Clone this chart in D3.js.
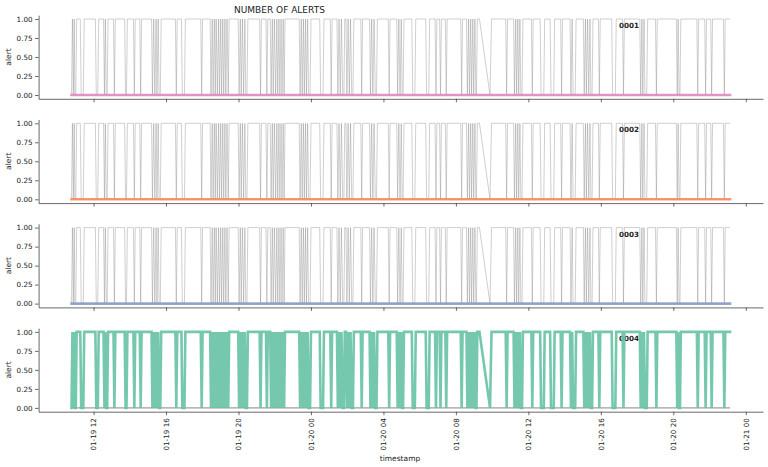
<!DOCTYPE html>
<html>
<head>
<meta charset="utf-8">
<script src="https://cdn.jsdelivr.net/npm/d3@7"></script>
<style>
	body { margin: 0; background: #fff; }
	svg text { font-family: "DejaVu Sans", sans-serif; fill: #222; }
	.axis path, .axis line { stroke: #444; stroke-width: 0.8; }
	.axis text { font-size: 7.2px; fill: #222; }
</style>
</head>
<body>
<svg id="chart" width="768" height="467"></svg>
<script>
/*
	Number of alerts
	================
	Small multiples: one panel per sensor, the sensor in colour and the others in grey
*/

// sensors and their colours
const sensors = ["0001", "0002", "0003", "0004"];
const palette = ["#e78ac3", "#fc8d62", "#8da0cb", "#66c2a5"];

// 0001 - 0003 never raised an alert over the whole period
const quietTimes = ["01-19 10:47", "01-20 23:08"];
const quietAlerts = [0, 0];

// 0004 (01-19)
const day1Times = [
	"10:47","10:50","10:53","10:56","10:58","11:01","11:04",
	"11:16","11:19","11:26","11:29",
	"12:06","12:09","12:14","12:17",
	"12:33","12:36","12:39","12:42","12:45","12:48",
	"13:06","13:09","13:12",
	"13:43","13:46","13:49","13:52",
	"14:12","14:15","14:18",
	"14:33","14:36","14:39",
	"15:12","15:15","15:19","15:23","15:27","15:30","15:34","15:37","15:41","15:44",
	"16:31","16:34","16:37",
	"16:51","16:54","17:01","17:04",
	"17:55","17:58","18:01",
	"18:26","18:29","18:33","18:36","18:40","18:43","18:46","18:50","18:54","18:57","19:01","19:04","19:08","19:11","19:15","19:18","19:22","19:26","19:29",
	"19:59","20:02","20:06","20:09","20:13","20:17","20:21","20:24","20:28","20:31",
	"21:10","21:13","21:16",
	"21:31","21:34","21:37",
	"21:45","21:48","21:52","21:55","21:59","22:03","22:07","22:10","22:14","22:17","22:21","22:24","22:28","22:31","22:34",
	"23:21","23:24","23:28","23:31","23:35","23:38","23:42","23:45","23:49","23:52","23:57"
];
const day1Alerts = [
	0,1,0,1,0,0,1,
	1,0,0,1,
	1,0,0,1,
	1,0,1,0,0,1,
	1,0,1,
	1,0,0,1,
	1,0,1,
	1,0,1,
	1,0,1,0,1,0,1,0,0,1,
	1,0,1,
	1,0,0,1,
	1,0,1,
	1,0,1,0,1,0,1,0,1,0,1,0,1,0,1,0,1,0,1,
	1,0,1,0,1,0,1,0,0,1,
	1,0,1,
	1,0,1,
	1,0,1,0,1,0,1,0,1,0,1,0,1,0,1,
	1,0,1,0,1,0,1,0,1,0,0
];

// 0004 (01-20)
const day2Times = [
	"00:00",
	"00:29","00:32","00:40","00:43",
	"01:04","01:07","01:10",
	"01:26","01:29","01:33","01:37","01:41","01:45","01:49","01:52","01:56","01:59","02:03","02:07","02:11","02:15","02:19","02:22",
	"02:45","02:48","02:51",
	"03:14","03:17","03:21","03:25","03:29","03:33","03:37","03:40",
	"04:16","04:19","04:22",
	"04:44","04:47","04:51","04:55","04:59","05:02","05:05","05:08",
	"05:34","05:37","05:44","05:47",
	"06:20","06:23","06:30","06:33",
	"06:51","06:54","06:57",
	"07:06","07:09","07:12",
	"07:25","07:28","07:31",
	"08:16","08:19","08:22",
	"08:35","08:38","08:42","08:45","08:49","08:52","08:56","08:59","09:03","09:06","09:08","09:11",
	"09:18","09:53","09:58",
	"10:45","10:48","10:51",
	"11:11","11:14","11:18","11:21","11:25","11:28","11:32","11:35","11:39","11:42",
	"12:10","12:13","12:16",
	"12:39","12:42","12:51","12:54",
	"13:12","13:15","13:24","13:27",
	"13:47","13:50","13:53",
	"14:18","14:21","14:25","14:28","14:35","14:38",
	"15:02","15:05","15:09","15:12","15:16","15:20","15:24","15:27","15:31","15:34",
	"15:52","15:55","15:58",
	"16:36","16:39","16:48","16:51",
	"17:12","17:15","17:18",
	"18:09","18:12","18:16","18:19","18:23","18:26","18:32","18:35",
	"19:01","19:04","19:07",
	"20:10","20:13","20:16","20:19","20:22","20:25",
	"21:18","21:21","21:24",
	"21:44","21:47","21:50",
	"22:04","22:07","22:10",
	"22:46","22:49","22:52",
	"23:08"
];
const day2Alerts = [
	1,
	1,0,0,1,
	1,0,1,
	1,0,1,0,1,0,0,1,1,0,1,0,1,0,0,1,
	1,0,1,
	1,0,1,0,1,0,0,1,
	1,0,1,
	1,0,1,0,1,0,0,1,
	1,0,0,1,
	1,0,0,1,
	1,0,1,
	1,0,1,
	1,0,1,
	1,0,1,
	1,0,1,0,1,0,1,0,1,0,0,1,
	1,0,1,
	1,0,1,
	1,0,1,0,1,0,1,0,0,1,
	1,0,1,
	1,0,0,1,
	1,0,0,1,
	1,0,1,
	1,0,1,0,0,1,
	1,0,1,0,1,0,1,0,0,1,
	1,0,1,
	1,0,0,1,
	1,0,1,
	1,0,1,0,1,0,0,1,
	1,0,1,
	1,0,1,0,0,1,
	1,0,1,
	1,0,1,
	1,0,1,
	1,0,1,
	1
];

const yTicks = [0, 0.25, 0.5, 0.75, 1.0];

// ---------------------------------------------------------------

if (day1Times.length != day1Alerts.length || day2Times.length != day2Alerts.length) {
	console.warn("alert arrays out of step", day1Times.length, day1Alerts.length, day2Times.length, day2Alerts.length);
}

const parseTime = d3.timeParse("%m-%d %H:%M");
const toPoints = (times, values) => times.map((t, i) => ({date: parseTime(t), value: values[i]}));

const alerts0004 = toPoints(
	day1Times.map(t => "01-19 " + t).concat(day2Times.map(t => "01-20 " + t)),
	day1Alerts.concat(day2Alerts)
);
const quiet = toPoints(quietTimes, quietAlerts);
const seriesData = [quiet, quiet, quiet, alerts0004];

const svg = d3.select("#chart");

const LEFT = 38.6, RIGHT = 763;
const PANEL_TOP = 15.2, PANEL_H = 83.6, PANEL_STEP = 104.3;

// matplotlib style 5% margin on x
const ext = d3.extent(alerts0004, d => d.date);
const pad = (ext[1] - ext[0]) * 0.05;
const x = d3.scaleTime()
	.domain([new Date(+ext[0] - pad), new Date(+ext[1] + pad)])
	.range([LEFT, RIGHT]);

const line = d3.line().x(d => x(d.date));
const fmt = d3.timeFormat("%m-%d %H");

sensors.forEach((name, i) => {
	const top = PANEL_TOP + i * PANEL_STEP;
	const bottom = top + PANEL_H;
	const y = d3.scaleLinear().domain([-0.05, 1.05]).range([bottom, top]);
	line.y(d => y(d.value));

	const g = svg.append("g").attr("class", "panel");

	// sensor name, sits under the lines
	g.append("text")
		.attr("x", x(parseTime("01-20 17:00")))
		.attr("y", y(0.88))
		.attr("font-size", "7.2px")
		.attr("font-weight", "bold")
		.attr("fill", "#111")
		.text(name);

	// every other sensor in grey
	sensors.forEach((other, j) => {
		if (j == i) return;
		g.append("path")
			.datum(seriesData[j])
			.attr("d", line)
			.attr("fill", "none")
			.attr("stroke", "grey")
			.attr("stroke-width", 1)
			.attr("stroke-opacity", 0.38);
	});

	g.append("path")
		.datum(seriesData[i])
		.attr("d", line)
		.attr("fill", "none")
		.attr("stroke", palette[i])
		.attr("stroke-width", 2.6)
		.attr("stroke-opacity", 0.9)
		.attr("stroke-linejoin", "miter")
		.attr("stroke-linecap", "square");

	// axes
	const yAxis = d3.axisLeft(y).tickValues(yTicks).tickFormat(d3.format(".2f"))
		.tickSize(3.5).tickSizeOuter(0).tickPadding(2.5);
	g.append("g").attr("class", "axis")
		.attr("transform", `translate(${LEFT},0)`)
		.call(yAxis);

	const xAxis = d3.axisBottom(x).ticks(d3.timeHour.every(4))
		.tickSize(3.5).tickSizeOuter(0)
		.tickFormat(i == sensors.length - 1 ? fmt : "");
	const xg = g.append("g").attr("class", "axis")
		.attr("transform", `translate(0,${bottom})`)
		.call(xAxis);
	if (i == sensors.length - 1) {
		xg.selectAll("text")
			.attr("transform", "rotate(-90)")
			.attr("x", -6.5)
			.attr("y", 0)
			.attr("dy", "0.32em")
			.style("text-anchor", "end");
	}

	// y label
	g.append("text")
		.attr("transform", `translate(10.5,${(top + bottom) / 2}) rotate(-90)`)
		.attr("text-anchor", "middle")
		.attr("font-size", "7.5px")
		.text("alert");
});

svg.append("text")
	.attr("x", 234)
	.attr("y", 13)
	.attr("font-size", "9px")
	.text("NUMBER OF ALERTS");

svg.append("text")
	.attr("x", 400)
	.attr("y", 461)
	.attr("text-anchor", "middle")
	.attr("font-size", "7.5px")
	.text("timestamp");
</script>
</body>
</html>
